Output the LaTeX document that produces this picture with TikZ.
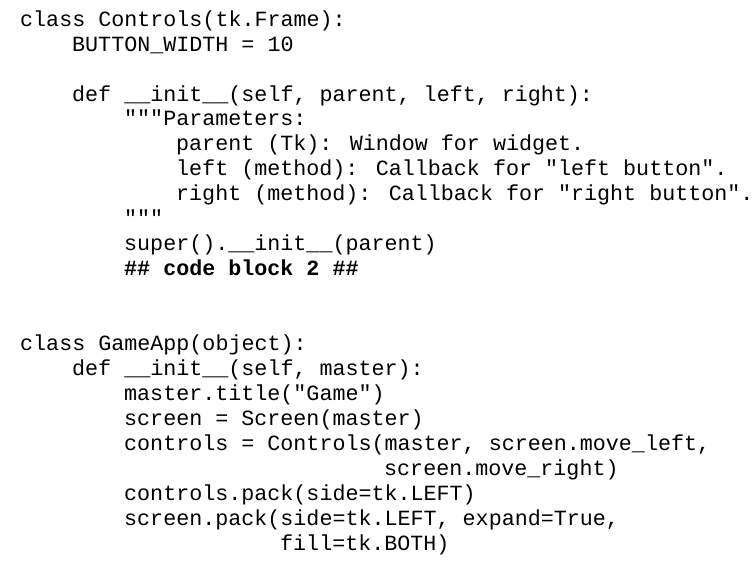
\documentclass[tikz,border=0pt]{standalone}
\usepackage{fontspec}
\newfontfamily\code{Liberation Mono}
\begin{document}
\begin{tikzpicture}[x=1pt,y=1pt,
  ln/.style={anchor=mid west,inner sep=0pt,font=\code\fontsize{21.7}{25}\selectfont}]
\useasboundingbox (0,0) rectangle (752,-567);
\def\L#1#2#3#4{\node[ln] (#1) at ({20+13*#3},{-(24+24.95*#2)}) {#4};}
\L{a}{0}{0}{class Controls(tk.Frame):}
\L{b}{1}{4}{BUTTON\_WIDTH = 10}
\L{c}{3}{4}{def \_\_init\_\_(self, parent, left, right):}
\L{d}{4}{8}{"""Parameters:}
\L{e}{5}{12}{parent (Tk): Window for widget.}
\L{f}{6}{12}{left (method): Callback for "left button".}
\L{g}{7}{12}{right (method): Callback for "right button".}
\L{h}{8}{8}{"""}
\L{i}{9}{8}{super().\_\_init\_\_(parent)}
\L{j}{10}{8}{\bfseries \#\# code block 2 \#\#}
\L{k}{13}{0}{class GameApp(object):}
\L{l}{14}{4}{def \_\_init\_\_(self, master):}
\L{m}{15}{8}{master.title("Game")}
\L{n}{16}{8}{screen = Screen(master)}
\L{o}{17}{8}{controls = Controls(master, screen.move\_left,}
\L{p}{18}{28}{screen.move\_right)}
\L{q}{19}{8}{controls.pack(side=tk.LEFT)}
\L{r}{20}{8}{screen.pack(side=tk.LEFT, expand=True,}
\L{s}{21}{20}{fill=tk.BOTH)}
\end{tikzpicture}
\end{document}
